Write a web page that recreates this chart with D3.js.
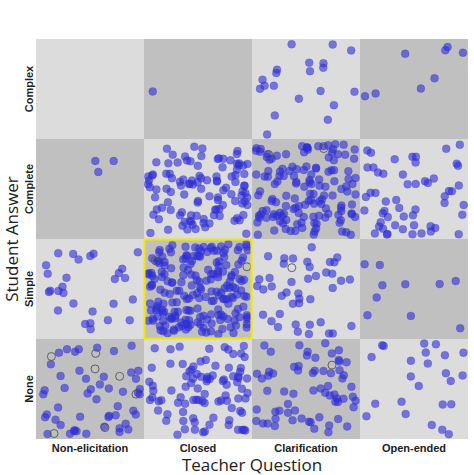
<!DOCTYPE html><html><head><meta charset="utf-8">
<script src="https://cdnjs.cloudflare.com/ajax/libs/d3/7.8.5/d3.min.js"></script>
<style>body{margin:0;background:#fff}</style></head><body><svg id="c" width="474" height="475"></svg>
<script>
const teacherQ = ["Non-elicitation","Closed","Clarification","Open-ended"];
const studentA = ["Complex","Complete","Simple","None"];
// estimated point counts per cell [row = student answer][col = teacher question]
const filledCounts = [
  [0, 1, 20, 8],
  [3, 110, 140, 55],
  [28, 200, 42, 10],
  [50, 90, 65, 24]
];
const hollowCounts = [
  [0, 0, 0, 0],
  [0, 0, 2, 0],
  [0, 2, 1, 0],
  [7, 0, 1, 0]
];
const highlight = {q:"Closed", a:"Simple"};

const svg = d3.select("#c");
const x = d3.scaleBand().domain(teacherQ).range([36,468]);
const y = d3.scaleBand().domain(studentA).range([39,439]);
const g = svg.append("g");
studentA.forEach((a,i)=>teacherQ.forEach((q,j)=>{
  g.append("rect").attr("x",x(q)).attr("y",y(a)).attr("width",x.bandwidth()).attr("height",y.bandwidth())
   .attr("fill",(i+j)%2===0?"#dcdcdc":"#c0c0c0");
}));
// deterministic hash jitter inside each cell
function h(n){const s=Math.sin(n*12.9898+78.233)*43758.5453;return s-Math.floor(s);}
const pts=[];
studentA.forEach((a,i)=>teacherQ.forEach((q,j)=>{
  const n=filledCounts[i][j], hc=hollowCounts[i][j], off=(i*4+j+1)*1000;
  for(let k=0;k<n+hc;k++){
    const u=h(off+k*2.17), v=h(off+k*3.31+500);
    pts.push({x:x(q)+4+u*(x.bandwidth()-8), y:y(a)+4+v*(y.bandwidth()-8), hollow:k>=n});
  }
}));
g.selectAll("circle").data(pts).join("circle")
 .attr("cx",d=>d.x).attr("cy",d=>d.y).attr("r",4)
 .attr("fill",d=>d.hollow?"none":"rgba(45,45,215,0.6)")
 .attr("stroke",d=>d.hollow?"#555":"rgba(45,45,215,0.3)").attr("stroke-width",d=>d.hollow?0.9:0.6);
g.append("rect").attr("x",x(highlight.q)+0.5).attr("y",y(highlight.a)+0.5)
 .attr("width",x.bandwidth()-1).attr("height",y.bandwidth()-1).attr("fill","none").attr("stroke","#f0e800").attr("stroke-width",2);
const font="Arial, Liberation Sans, sans-serif";
teacherQ.forEach(q=>svg.append("text").attr("x",x(q)+x.bandwidth()/2).attr("y",452).attr("text-anchor","middle")
  .attr("font-family",font).attr("font-size",11).attr("font-weight","bold").attr("fill","#222").text(q));
studentA.forEach(a=>svg.append("text").attr("transform",`translate(33,${y(a)+y.bandwidth()/2}) rotate(-90)`).attr("text-anchor","middle")
  .attr("font-family",font).attr("font-size",11).attr("font-weight","bold").attr("fill","#222").text(a));
svg.append("text").attr("x",252).attr("y",471).attr("text-anchor","middle").attr("font-family","Open Sans, sans-serif").attr("font-size",17).attr("fill","#222").text("Teacher Question");
svg.append("text").attr("transform","translate(18,239) rotate(-90)").attr("text-anchor","middle").attr("font-family","Open Sans, sans-serif").attr("font-size",17).attr("fill","#222").text("Student Answer");
</script></body></html>
